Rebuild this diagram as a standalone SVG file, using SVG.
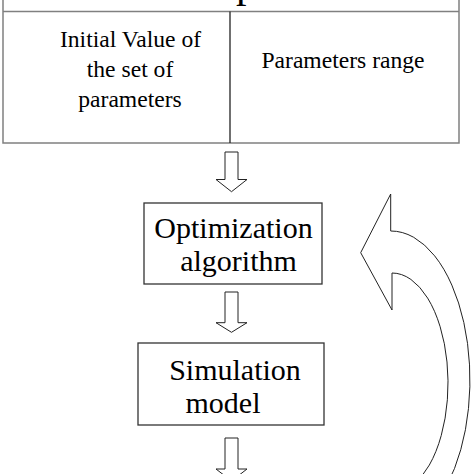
<svg xmlns="http://www.w3.org/2000/svg" width="474" height="474" viewBox="0 0 474 474">
<style>
text{font-family:"Liberation Serif","Times New Roman",serif;fill:#000}
.t{font-size:23.6px;text-anchor:middle}
.b{font-size:30px;text-anchor:middle}
.frame{fill:none;stroke:#808080;stroke-width:1.5}
.box{fill:#fff;stroke:#333;stroke-width:1.3}
.arr{fill:#fff;stroke:#222;stroke-width:1}
</style>
<rect width="474" height="474" fill="#fff"/>
<g id="input">
<text x="236" y="-3" style="font-size:42px">p</text>
<path class="frame" d="M3,0 V143 H459 V0 M3,11.5 H459"/>
<line x1="230" y1="11.5" x2="230" y2="143" stroke="#222" stroke-width="1.3"/>
<text class="t" x="130.5" y="47">Initial Value of</text>
<text class="t" x="130" y="77">the set of</text>
<text class="t" x="130" y="107">parameters</text>
<text class="t" x="343" y="68">Parameters range</text>
</g>
<g id="optimization">
<rect class="box" x="144" y="203" width="178" height="81"/>
<text class="b" x="233.5" y="238">Optimization</text>
<text class="b" x="238.5" y="271">algorithm</text>
</g>
<g id="simulation">
<rect class="box" x="138" y="343" width="186" height="82"/>
<text class="b" x="235" y="380">Simulation</text>
<text class="b" x="223" y="413">model</text>
</g>
<g id="connectors">
<path class="arr" d="M225,152 H238 V179.5 H247 L231.5,191.7 L216,179.5 H225 Z"/>
<path class="arr" d="M225,292 H238 V322.7 H247 L231.5,332.3 L216,322.7 H225 Z"/>
<path class="arr" d="M225,438 H238 V469 H247 L231.5,481 L216,469 H225 Z"/>
<path class="arr" d="M360.7,252.7 L390.7,194 L390.7,231 A79,149 0 0 1 447,485 L413,485 A56,110 0 0 0 392,273 L392,310 Z"/>
</g>
</svg>
